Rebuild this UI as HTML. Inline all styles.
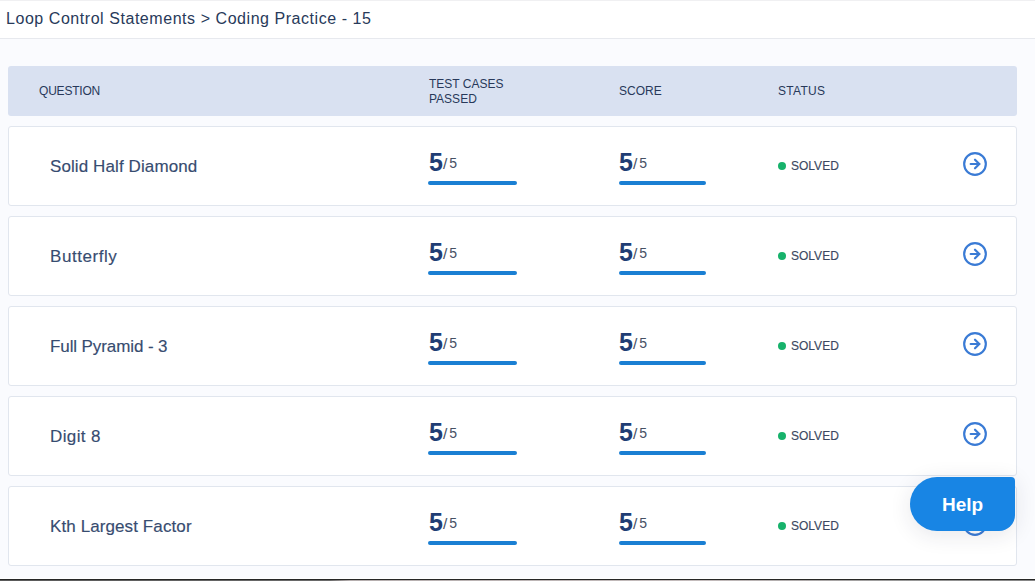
<!DOCTYPE html>
<html><head><meta charset="utf-8">
<style>
*{box-sizing:border-box;margin:0;padding:0}
html,body{width:1035px;height:581px;overflow:hidden;background:#fafbfe;font-family:"Liberation Sans",sans-serif;position:relative}
.top{position:absolute;left:0;top:0;width:1035px;height:39px;background:#fff;border-top:1px solid #f0f0f2;border-bottom:1px solid #e7e9ee}
.crumb{position:absolute;left:6px;top:8px;font-size:16px;line-height:20px;letter-spacing:0.55px;color:#283a5a;white-space:nowrap}
.thead{position:absolute;left:8px;top:66px;width:1009px;height:50px;background:#d9e1f1;border-radius:3px}
.th{position:absolute;font-size:12px;color:#28395a;line-height:15px;white-space:nowrap}
.row{position:absolute;left:8px;width:1009px;height:80px;background:#fff;border:1px solid #e1e6ee;border-radius:3px}
.title{position:absolute;left:41px;top:30px;font-size:17px;line-height:20px;letter-spacing:0.1px;color:#374c70;-webkit-text-stroke:0.15px #374c70;white-space:nowrap}
.big{position:absolute;font-size:25px;line-height:24px;font-weight:bold;color:#213d74}
.sm{position:absolute;font-size:14px;line-height:14px;color:#465064;white-space:nowrap}
.sm i{font-style:normal;font-size:15.5px;position:relative;top:1px}
.bar{position:absolute;top:54px;height:4px;border-radius:2px;background:#1a7fd3}
.dot{position:absolute;left:769px;top:35px;width:8px;height:8px;border-radius:50%;background:#17b26b}
.solved{position:absolute;left:782px;top:32px;font-size:12px;line-height:14px;color:#3b4862;-webkit-text-stroke:0.15px #3b4862}
.arrow{position:absolute;left:953px;top:24px;width:26px;height:26px}
.bottom{position:absolute;left:0;top:578px;width:1035px;height:3px;background:linear-gradient(#fff 0 1px,#262626 1px 2px,transparent 2px)}
.bottom2{position:absolute;left:0;top:580px;width:1035px;height:1px;background:linear-gradient(90deg,#5a5a5a 0,#6a6a6a 330px,#b5aeae 350px,#c4bcbc 700px,#9a9a9a 900px,#858585 1035px)}
.help{position:absolute;left:910px;top:477px;width:105px;height:54px;background:#1885e4;border-radius:27px 4px 16px 27px;color:#fff;font-weight:bold;font-size:19px;text-align:center;line-height:56px;box-shadow:0 4px 22px rgba(40,40,60,0.11)}
</style></head><body>
<div class="top"><div class="crumb">Loop Control Statements &gt; Coding Practice - 15</div></div>
<div class="thead">
<div class="th" style="left:31px;top:18px;letter-spacing:-0.2px">QUESTION</div>
<div class="th" style="left:421px;top:11px">TEST CASES<br>PASSED</div>
<div class="th" style="left:611px;top:18px">SCORE</div>
<div class="th" style="left:770px;top:18px;letter-spacing:0.3px">STATUS</div>
</div>
<div class="row" style="top:126px">
<div class="title" style="letter-spacing:0.1px">Solid Half Diamond</div>
<div class="big" style="left:420px;top:23px">5</div><div class="sm" style="left:434px;top:29px"><i>/</i><span style="margin-left:2px">5</span></div>
<div class="bar" style="left:419px;width:89px"></div>
<div class="big" style="left:610px;top:23px">5</div><div class="sm" style="left:624px;top:29px"><i>/</i><span style="margin-left:2px">5</span></div>
<div class="bar" style="left:610px;width:87px"></div>
<div class="dot"></div><div class="solved">SOLVED</div>
<svg class="arrow" viewBox="0 0 24 24" fill="none" stroke="#3a7bd5" stroke-width="2" stroke-linecap="round" stroke-linejoin="round"><circle cx="12" cy="12" r="10"/><polyline points="12 16 16 12 12 8"/><line x1="8" y1="12" x2="16" y2="12"/></svg>
</div>
<div class="row" style="top:216px">
<div class="title" style="letter-spacing:0.55px">Butterfly</div>
<div class="big" style="left:420px;top:23px">5</div><div class="sm" style="left:434px;top:29px"><i>/</i><span style="margin-left:2px">5</span></div>
<div class="bar" style="left:419px;width:89px"></div>
<div class="big" style="left:610px;top:23px">5</div><div class="sm" style="left:624px;top:29px"><i>/</i><span style="margin-left:2px">5</span></div>
<div class="bar" style="left:610px;width:87px"></div>
<div class="dot"></div><div class="solved">SOLVED</div>
<svg class="arrow" viewBox="0 0 24 24" fill="none" stroke="#3a7bd5" stroke-width="2" stroke-linecap="round" stroke-linejoin="round"><circle cx="12" cy="12" r="10"/><polyline points="12 16 16 12 12 8"/><line x1="8" y1="12" x2="16" y2="12"/></svg>
</div>
<div class="row" style="top:306px">
<div class="title" style="letter-spacing:-0.1px">Full Pyramid - 3</div>
<div class="big" style="left:420px;top:23px">5</div><div class="sm" style="left:434px;top:29px"><i>/</i><span style="margin-left:2px">5</span></div>
<div class="bar" style="left:419px;width:89px"></div>
<div class="big" style="left:610px;top:23px">5</div><div class="sm" style="left:624px;top:29px"><i>/</i><span style="margin-left:2px">5</span></div>
<div class="bar" style="left:610px;width:87px"></div>
<div class="dot"></div><div class="solved">SOLVED</div>
<svg class="arrow" viewBox="0 0 24 24" fill="none" stroke="#3a7bd5" stroke-width="2" stroke-linecap="round" stroke-linejoin="round"><circle cx="12" cy="12" r="10"/><polyline points="12 16 16 12 12 8"/><line x1="8" y1="12" x2="16" y2="12"/></svg>
</div>
<div class="row" style="top:396px">
<div class="title" style="letter-spacing:0.38px">Digit 8</div>
<div class="big" style="left:420px;top:23px">5</div><div class="sm" style="left:434px;top:29px"><i>/</i><span style="margin-left:2px">5</span></div>
<div class="bar" style="left:419px;width:89px"></div>
<div class="big" style="left:610px;top:23px">5</div><div class="sm" style="left:624px;top:29px"><i>/</i><span style="margin-left:2px">5</span></div>
<div class="bar" style="left:610px;width:87px"></div>
<div class="dot"></div><div class="solved">SOLVED</div>
<svg class="arrow" viewBox="0 0 24 24" fill="none" stroke="#3a7bd5" stroke-width="2" stroke-linecap="round" stroke-linejoin="round"><circle cx="12" cy="12" r="10"/><polyline points="12 16 16 12 12 8"/><line x1="8" y1="12" x2="16" y2="12"/></svg>
</div>
<div class="row" style="top:486px">
<div class="title" style="letter-spacing:0.1px">Kth Largest Factor</div>
<div class="big" style="left:420px;top:23px">5</div><div class="sm" style="left:434px;top:29px"><i>/</i><span style="margin-left:2px">5</span></div>
<div class="bar" style="left:419px;width:89px"></div>
<div class="big" style="left:610px;top:23px">5</div><div class="sm" style="left:624px;top:29px"><i>/</i><span style="margin-left:2px">5</span></div>
<div class="bar" style="left:610px;width:87px"></div>
<div class="dot"></div><div class="solved">SOLVED</div>
<svg class="arrow" viewBox="0 0 24 24" fill="none" stroke="#3a7bd5" stroke-width="2" stroke-linecap="round" stroke-linejoin="round"><circle cx="12" cy="12" r="10"/><polyline points="12 16 16 12 12 8"/><line x1="8" y1="12" x2="16" y2="12"/></svg>
</div>
<div class="help">Help</div>
<div class="bottom"></div><div class="bottom2"></div>
</body></html>
